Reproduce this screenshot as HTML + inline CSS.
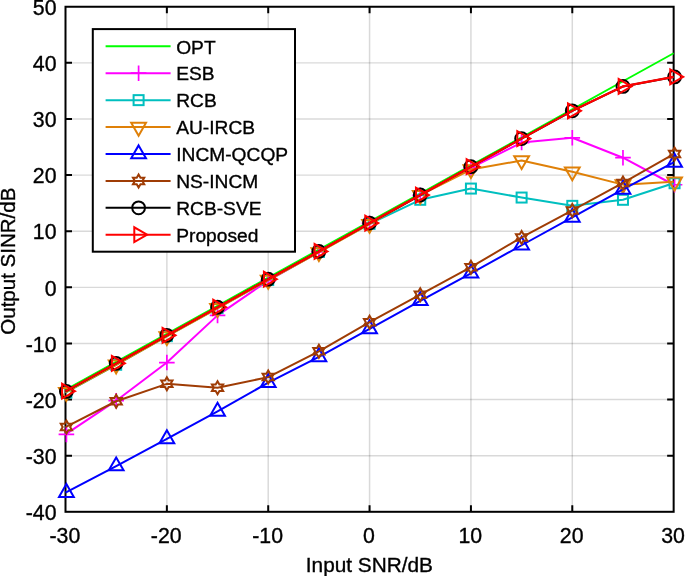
<!DOCTYPE html>
<html><head><meta charset="utf-8"><title>SINR vs SNR</title>
<style>html,body{margin:0;padding:0;background:#fff}svg{display:block}</style></head>
<body>
<svg width="685" height="576" viewBox="0 0 685 576" font-family="'Liberation Sans', sans-serif" font-size="21.3" fill="#000"><style>text{stroke:#000;stroke-width:0.35px}</style>
<rect width="685" height="576" fill="#fff"/>
<path d="M166.86 6.75V511.8M268.22 6.75V511.8M369.57 6.75V511.8M470.93 6.75V511.8M572.29 6.75V511.8" stroke="#000" stroke-opacity="0.15" stroke-width="1.5" fill="none"/>
<path d="M65.5 455.68H673.65M65.5 399.57H673.65M65.5 343.45H673.65M65.5 287.33H673.65M65.5 231.22H673.65M65.5 175.10H673.65M65.5 118.98H673.65M65.5 62.87H673.65" stroke="#000" stroke-opacity="0.15" stroke-width="1.4" fill="none"/>
<rect x="65.5" y="6.75" width="608.15" height="505.05" stroke="#000" stroke-width="2" fill="none"/>
<path d="M166.86 511.8v-6.5M166.86 6.75v6.5M268.22 511.8v-6.5M268.22 6.75v6.5M369.57 511.8v-6.5M369.57 6.75v6.5M470.93 511.8v-6.5M470.93 6.75v6.5M572.29 511.8v-6.5M572.29 6.75v6.5M65.5 455.68h6.5M673.65 455.68h-6.5M65.5 399.57h6.5M673.65 399.57h-6.5M65.5 343.45h6.5M673.65 343.45h-6.5M65.5 287.33h6.5M673.65 287.33h-6.5M65.5 231.22h6.5M673.65 231.22h-6.5M65.5 175.10h6.5M673.65 175.10h-6.5M65.5 118.98h6.5M673.65 118.98h-6.5M65.5 62.87h6.5M673.65 62.87h-6.5" stroke="#000" stroke-width="2" fill="none"/>
<g><polyline points="65.50,389.91 116.18,361.86 166.86,333.80 217.54,305.74 268.22,277.68 318.90,249.62 369.57,221.56 420.25,193.51 470.93,165.45 521.61,137.39 572.29,109.33 622.97,81.27 673.65,53.21" stroke="#00ff00" stroke-width="1.9" fill="none" stroke-linejoin="round"/>
</g>
<g><polyline points="65.50,434.36 116.18,400.69 166.86,362.53 217.54,315.39 268.22,280.60 318.90,251.98 369.57,223.36 420.25,195.30 470.93,167.80 521.61,142.55 572.29,137.78 622.97,157.70 673.65,184.75" stroke="#ff00ff" stroke-width="2.0" fill="none" stroke-linejoin="round"/>
<path d="M58.60 434.36H74.20M66.40 426.56V442.16" stroke="#ff00ff" stroke-width="1.7" fill="none"/>
<path d="M108.38 400.69H123.98M116.18 392.89V408.49" stroke="#ff00ff" stroke-width="1.7" fill="none"/>
<path d="M159.06 362.53H174.66M166.86 354.73V370.33" stroke="#ff00ff" stroke-width="1.7" fill="none"/>
<path d="M209.74 315.39H225.34M217.54 307.59V323.19" stroke="#ff00ff" stroke-width="1.7" fill="none"/>
<path d="M260.42 280.60H276.02M268.22 272.80V288.40" stroke="#ff00ff" stroke-width="1.7" fill="none"/>
<path d="M311.10 251.98H326.70M318.90 244.18V259.78" stroke="#ff00ff" stroke-width="1.7" fill="none"/>
<path d="M361.77 223.36H377.38M369.57 215.56V231.16" stroke="#ff00ff" stroke-width="1.7" fill="none"/>
<path d="M412.45 195.30H428.05M420.25 187.50V203.10" stroke="#ff00ff" stroke-width="1.7" fill="none"/>
<path d="M463.13 167.80H478.73M470.93 160.00V175.60" stroke="#ff00ff" stroke-width="1.7" fill="none"/>
<path d="M513.81 142.55H529.41M521.61 134.75V150.35" stroke="#ff00ff" stroke-width="1.7" fill="none"/>
<path d="M564.49 137.78H580.09M572.29 129.98V145.58" stroke="#ff00ff" stroke-width="1.7" fill="none"/>
<path d="M615.17 157.70H630.77M622.97 149.90V165.50" stroke="#ff00ff" stroke-width="1.7" fill="none"/>
<path d="M666.75 184.75H682.35M674.55 176.95V192.55" stroke="#ff00ff" stroke-width="1.7" fill="none"/>
</g>
<g><polyline points="65.50,392.55 116.18,364.77 166.86,336.15 217.54,308.10 268.22,280.04 318.90,251.98 369.57,223.92 420.25,199.79 470.93,188.57 521.61,197.55 572.29,205.85 622.97,199.79 673.65,183.24" stroke="#00bfbf" stroke-width="2.0" fill="none" stroke-linejoin="round"/>
<rect x="61.40" y="387.55" width="10.0" height="10.0" stroke="#00bfbf" stroke-width="2.0" fill="none"/>
<rect x="111.18" y="359.77" width="10.0" height="10.0" stroke="#00bfbf" stroke-width="2.0" fill="none"/>
<rect x="161.86" y="331.15" width="10.0" height="10.0" stroke="#00bfbf" stroke-width="2.0" fill="none"/>
<rect x="212.54" y="303.10" width="10.0" height="10.0" stroke="#00bfbf" stroke-width="2.0" fill="none"/>
<rect x="263.22" y="275.04" width="10.0" height="10.0" stroke="#00bfbf" stroke-width="2.0" fill="none"/>
<rect x="313.90" y="246.98" width="10.0" height="10.0" stroke="#00bfbf" stroke-width="2.0" fill="none"/>
<rect x="364.57" y="218.92" width="10.0" height="10.0" stroke="#00bfbf" stroke-width="2.0" fill="none"/>
<rect x="415.25" y="194.79" width="10.0" height="10.0" stroke="#00bfbf" stroke-width="2.0" fill="none"/>
<rect x="465.93" y="183.57" width="10.0" height="10.0" stroke="#00bfbf" stroke-width="2.0" fill="none"/>
<rect x="516.61" y="192.55" width="10.0" height="10.0" stroke="#00bfbf" stroke-width="2.0" fill="none"/>
<rect x="567.29" y="200.85" width="10.0" height="10.0" stroke="#00bfbf" stroke-width="2.0" fill="none"/>
<rect x="617.97" y="194.79" width="10.0" height="10.0" stroke="#00bfbf" stroke-width="2.0" fill="none"/>
<rect x="669.55" y="178.24" width="10.0" height="10.0" stroke="#00bfbf" stroke-width="2.0" fill="none"/>
</g>
<g><polyline points="65.50,392.27 116.18,364.77 166.86,336.44 217.54,308.38 268.22,280.15 318.90,252.43 369.57,224.20 420.25,195.19 470.93,169.49 521.61,160.51 572.29,171.73 622.97,184.64 673.65,181.83" stroke="#df8008" stroke-width="2.0" fill="none" stroke-linejoin="round"/>
<polygon points="66.40,400.87 73.80,387.97 59.00,387.97" stroke="#df8008" stroke-width="2.0" fill="none" stroke-linejoin="miter"/>
<polygon points="116.18,373.37 123.58,360.47 108.78,360.47" stroke="#df8008" stroke-width="2.0" fill="none" stroke-linejoin="miter"/>
<polygon points="166.86,345.04 174.26,332.14 159.46,332.14" stroke="#df8008" stroke-width="2.0" fill="none" stroke-linejoin="miter"/>
<polygon points="217.54,316.98 224.94,304.08 210.14,304.08" stroke="#df8008" stroke-width="2.0" fill="none" stroke-linejoin="miter"/>
<polygon points="268.22,288.75 275.62,275.85 260.82,275.85" stroke="#df8008" stroke-width="2.0" fill="none" stroke-linejoin="miter"/>
<polygon points="318.90,261.03 326.30,248.13 311.50,248.13" stroke="#df8008" stroke-width="2.0" fill="none" stroke-linejoin="miter"/>
<polygon points="369.57,232.80 376.97,219.90 362.18,219.90" stroke="#df8008" stroke-width="2.0" fill="none" stroke-linejoin="miter"/>
<polygon points="420.25,203.79 427.65,190.89 412.85,190.89" stroke="#df8008" stroke-width="2.0" fill="none" stroke-linejoin="miter"/>
<polygon points="470.93,178.09 478.33,165.19 463.53,165.19" stroke="#df8008" stroke-width="2.0" fill="none" stroke-linejoin="miter"/>
<polygon points="521.61,169.11 529.01,156.21 514.21,156.21" stroke="#df8008" stroke-width="2.0" fill="none" stroke-linejoin="miter"/>
<polygon points="572.29,180.33 579.69,167.43 564.89,167.43" stroke="#df8008" stroke-width="2.0" fill="none" stroke-linejoin="miter"/>
<polygon points="622.97,193.24 630.37,180.34 615.57,180.34" stroke="#df8008" stroke-width="2.0" fill="none" stroke-linejoin="miter"/>
<polygon points="674.55,190.43 681.95,177.53 667.15,177.53" stroke="#df8008" stroke-width="2.0" fill="none" stroke-linejoin="miter"/>
</g>
<g><polyline points="65.50,492.72 116.18,466.06 166.86,438.85 217.54,411.35 268.22,382.73 318.90,356.92 369.57,328.86 420.25,300.80 470.93,273.30 521.61,245.25 572.29,217.47 622.97,189.41 673.65,162.47" stroke="#0000ff" stroke-width="2.0" fill="none" stroke-linejoin="round"/>
<polygon points="66.40,484.12 73.80,497.02 59.00,497.02" stroke="#0000ff" stroke-width="2.0" fill="none" stroke-linejoin="miter"/>
<polygon points="116.18,457.46 123.58,470.36 108.78,470.36" stroke="#0000ff" stroke-width="2.0" fill="none" stroke-linejoin="miter"/>
<polygon points="166.86,430.25 174.26,443.15 159.46,443.15" stroke="#0000ff" stroke-width="2.0" fill="none" stroke-linejoin="miter"/>
<polygon points="217.54,402.75 224.94,415.65 210.14,415.65" stroke="#0000ff" stroke-width="2.0" fill="none" stroke-linejoin="miter"/>
<polygon points="268.22,374.13 275.62,387.03 260.82,387.03" stroke="#0000ff" stroke-width="2.0" fill="none" stroke-linejoin="miter"/>
<polygon points="318.90,348.32 326.30,361.22 311.50,361.22" stroke="#0000ff" stroke-width="2.0" fill="none" stroke-linejoin="miter"/>
<polygon points="369.57,320.26 376.97,333.16 362.18,333.16" stroke="#0000ff" stroke-width="2.0" fill="none" stroke-linejoin="miter"/>
<polygon points="420.25,292.20 427.65,305.10 412.85,305.10" stroke="#0000ff" stroke-width="2.0" fill="none" stroke-linejoin="miter"/>
<polygon points="470.93,264.70 478.33,277.60 463.53,277.60" stroke="#0000ff" stroke-width="2.0" fill="none" stroke-linejoin="miter"/>
<polygon points="521.61,236.65 529.01,249.55 514.21,249.55" stroke="#0000ff" stroke-width="2.0" fill="none" stroke-linejoin="miter"/>
<polygon points="572.29,208.87 579.69,221.77 564.89,221.77" stroke="#0000ff" stroke-width="2.0" fill="none" stroke-linejoin="miter"/>
<polygon points="622.97,180.81 630.37,193.71 615.57,193.71" stroke="#0000ff" stroke-width="2.0" fill="none" stroke-linejoin="miter"/>
<polygon points="674.55,153.87 681.95,166.77 667.15,166.77" stroke="#0000ff" stroke-width="2.0" fill="none" stroke-linejoin="miter"/>
</g>
<g><polyline points="65.50,427.06 116.18,401.25 166.86,383.85 217.54,387.78 268.22,377.12 318.90,351.31 369.57,322.13 420.25,294.63 470.93,267.13 521.61,237.39 572.29,210.45 622.97,182.96 673.65,154.06" stroke="#9f3c05" stroke-width="2.0" fill="none" stroke-linejoin="round"/>
<polygon points="66.40,420.56 68.28,423.81 72.03,423.81 70.15,427.06 72.03,430.31 68.28,430.31 66.40,433.56 64.52,430.31 60.77,430.31 62.65,427.06 60.77,423.81 64.52,423.81" stroke="#9f3c05" stroke-width="2.0" fill="none" stroke-linejoin="miter"/>
<polygon points="116.18,394.75 118.06,398.00 121.81,398.00 119.93,401.25 121.81,404.50 118.06,404.50 116.18,407.75 114.30,404.50 110.55,404.50 112.43,401.25 110.55,398.00 114.30,398.00" stroke="#9f3c05" stroke-width="2.0" fill="none" stroke-linejoin="miter"/>
<polygon points="166.86,377.35 168.73,380.60 172.49,380.60 170.61,383.85 172.49,387.10 168.73,387.10 166.86,390.35 164.98,387.10 161.23,387.10 163.11,383.85 161.23,380.60 164.98,380.60" stroke="#9f3c05" stroke-width="2.0" fill="none" stroke-linejoin="miter"/>
<polygon points="217.54,381.28 219.41,384.53 223.17,384.53 221.29,387.78 223.17,391.03 219.41,391.03 217.54,394.28 215.66,391.03 211.91,391.03 213.78,387.78 211.91,384.53 215.66,384.53" stroke="#9f3c05" stroke-width="2.0" fill="none" stroke-linejoin="miter"/>
<polygon points="268.22,370.62 270.09,373.87 273.85,373.87 271.97,377.12 273.85,380.37 270.09,380.37 268.22,383.62 266.34,380.37 262.59,380.37 264.46,377.12 262.59,373.87 266.34,373.87" stroke="#9f3c05" stroke-width="2.0" fill="none" stroke-linejoin="miter"/>
<polygon points="318.90,344.81 320.77,348.06 324.52,348.06 322.65,351.31 324.52,354.56 320.77,354.56 318.90,357.81 317.02,354.56 313.27,354.56 315.14,351.31 313.27,348.06 317.02,348.06" stroke="#9f3c05" stroke-width="2.0" fill="none" stroke-linejoin="miter"/>
<polygon points="369.57,315.63 371.45,318.88 375.20,318.88 373.33,322.13 375.20,325.38 371.45,325.38 369.57,328.63 367.70,325.38 363.95,325.38 365.82,322.13 363.95,318.88 367.70,318.88" stroke="#9f3c05" stroke-width="2.0" fill="none" stroke-linejoin="miter"/>
<polygon points="420.25,288.13 422.13,291.38 425.88,291.38 424.01,294.63 425.88,297.88 422.13,297.88 420.25,301.13 418.38,297.88 414.63,297.88 416.50,294.63 414.63,291.38 418.38,291.38" stroke="#9f3c05" stroke-width="2.0" fill="none" stroke-linejoin="miter"/>
<polygon points="470.93,260.63 472.81,263.88 476.56,263.88 474.69,267.13 476.56,270.38 472.81,270.38 470.93,273.63 469.06,270.38 465.30,270.38 467.18,267.13 465.30,263.88 469.06,263.88" stroke="#9f3c05" stroke-width="2.0" fill="none" stroke-linejoin="miter"/>
<polygon points="521.61,230.89 523.49,234.14 527.24,234.14 525.37,237.39 527.24,240.64 523.49,240.64 521.61,243.89 519.74,240.64 515.98,240.64 517.86,237.39 515.98,234.14 519.74,234.14" stroke="#9f3c05" stroke-width="2.0" fill="none" stroke-linejoin="miter"/>
<polygon points="572.29,203.95 574.17,207.20 577.92,207.20 576.04,210.45 577.92,213.70 574.17,213.70 572.29,216.95 570.42,213.70 566.66,213.70 568.54,210.45 566.66,207.20 570.42,207.20" stroke="#9f3c05" stroke-width="2.0" fill="none" stroke-linejoin="miter"/>
<polygon points="622.97,176.46 624.85,179.71 628.60,179.71 626.72,182.96 628.60,186.21 624.85,186.21 622.97,189.46 621.09,186.21 617.34,186.21 619.22,182.96 617.34,179.71 621.09,179.71" stroke="#9f3c05" stroke-width="2.0" fill="none" stroke-linejoin="miter"/>
<polygon points="674.55,147.56 676.43,150.81 680.18,150.81 678.30,154.06 680.18,157.31 676.43,157.31 674.55,160.56 672.67,157.31 668.92,157.31 670.80,154.06 668.92,150.81 672.67,150.81" stroke="#9f3c05" stroke-width="2.0" fill="none" stroke-linejoin="miter"/>
</g>
<g><polyline points="65.50,391.43 116.18,363.37 166.86,335.31 217.54,307.25 268.22,279.20 318.90,251.42 369.57,223.08 420.25,195.02 470.93,166.68 521.61,138.62 572.29,110.85 622.97,86.44 673.65,76.90" stroke="#000000" stroke-width="2.0" fill="none" stroke-linejoin="round"/>
<circle cx="66.40" cy="391.43" r="6.4" stroke="#000000" stroke-width="2.0" fill="none"/>
<circle cx="116.18" cy="363.37" r="6.4" stroke="#000000" stroke-width="2.0" fill="none"/>
<circle cx="166.86" cy="335.31" r="6.4" stroke="#000000" stroke-width="2.0" fill="none"/>
<circle cx="217.54" cy="307.25" r="6.4" stroke="#000000" stroke-width="2.0" fill="none"/>
<circle cx="268.22" cy="279.20" r="6.4" stroke="#000000" stroke-width="2.0" fill="none"/>
<circle cx="318.90" cy="251.42" r="6.4" stroke="#000000" stroke-width="2.0" fill="none"/>
<circle cx="369.57" cy="223.08" r="6.4" stroke="#000000" stroke-width="2.0" fill="none"/>
<circle cx="420.25" cy="195.02" r="6.4" stroke="#000000" stroke-width="2.0" fill="none"/>
<circle cx="470.93" cy="166.68" r="6.4" stroke="#000000" stroke-width="2.0" fill="none"/>
<circle cx="521.61" cy="138.62" r="6.4" stroke="#000000" stroke-width="2.0" fill="none"/>
<circle cx="572.29" cy="110.85" r="6.4" stroke="#000000" stroke-width="2.0" fill="none"/>
<circle cx="622.97" cy="86.44" r="6.4" stroke="#000000" stroke-width="2.0" fill="none"/>
<circle cx="674.55" cy="76.90" r="6.4" stroke="#000000" stroke-width="2.0" fill="none"/>
</g>
<g><polyline points="65.50,391.15 116.18,363.37 166.86,335.31 217.54,307.25 268.22,279.20 318.90,251.42 369.57,223.08 420.25,195.02 470.93,166.68 521.61,138.62 572.29,110.85 622.97,86.44 673.65,76.90" stroke="#ff0000" stroke-width="2.2" fill="none" stroke-linejoin="round"/>
<polygon points="75.00,391.15 62.10,398.55 62.10,383.75" stroke="#ff0000" stroke-width="2.0" fill="none" stroke-linejoin="miter"/>
<polygon points="124.78,363.37 111.88,370.77 111.88,355.97" stroke="#ff0000" stroke-width="2.0" fill="none" stroke-linejoin="miter"/>
<polygon points="175.46,335.31 162.56,342.71 162.56,327.91" stroke="#ff0000" stroke-width="2.0" fill="none" stroke-linejoin="miter"/>
<polygon points="226.14,307.25 213.24,314.65 213.24,299.85" stroke="#ff0000" stroke-width="2.0" fill="none" stroke-linejoin="miter"/>
<polygon points="276.82,279.20 263.92,286.60 263.92,271.80" stroke="#ff0000" stroke-width="2.0" fill="none" stroke-linejoin="miter"/>
<polygon points="327.50,251.42 314.60,258.82 314.60,244.02" stroke="#ff0000" stroke-width="2.0" fill="none" stroke-linejoin="miter"/>
<polygon points="378.18,223.08 365.27,230.48 365.27,215.68" stroke="#ff0000" stroke-width="2.0" fill="none" stroke-linejoin="miter"/>
<polygon points="428.85,195.02 415.95,202.42 415.95,187.62" stroke="#ff0000" stroke-width="2.0" fill="none" stroke-linejoin="miter"/>
<polygon points="479.53,166.68 466.63,174.08 466.63,159.28" stroke="#ff0000" stroke-width="2.0" fill="none" stroke-linejoin="miter"/>
<polygon points="530.21,138.62 517.31,146.02 517.31,131.22" stroke="#ff0000" stroke-width="2.0" fill="none" stroke-linejoin="miter"/>
<polygon points="580.89,110.85 567.99,118.25 567.99,103.45" stroke="#ff0000" stroke-width="2.0" fill="none" stroke-linejoin="miter"/>
<polygon points="631.57,86.44 618.67,93.84 618.67,79.04" stroke="#ff0000" stroke-width="2.0" fill="none" stroke-linejoin="miter"/>
<polygon points="683.15,76.90 670.25,84.30 670.25,69.50" stroke="#ff0000" stroke-width="2.0" fill="none" stroke-linejoin="miter"/>
</g>
<text x="64.90" y="543.1" text-anchor="middle">-30</text>
<text x="166.26" y="543.1" text-anchor="middle">-20</text>
<text x="267.62" y="543.1" text-anchor="middle">-10</text>
<text x="368.97" y="543.1" text-anchor="middle">0</text>
<text x="470.33" y="543.1" text-anchor="middle">10</text>
<text x="571.69" y="543.1" text-anchor="middle">20</text>
<text x="673.05" y="543.1" text-anchor="middle">30</text>
<text x="56.5" y="520.00" text-anchor="end">-40</text>
<text x="56.5" y="463.88" text-anchor="end">-30</text>
<text x="56.5" y="407.77" text-anchor="end">-20</text>
<text x="56.5" y="351.65" text-anchor="end">-10</text>
<text x="56.5" y="295.53" text-anchor="end">0</text>
<text x="56.5" y="239.42" text-anchor="end">10</text>
<text x="56.5" y="183.30" text-anchor="end">20</text>
<text x="56.5" y="127.18" text-anchor="end">30</text>
<text x="56.5" y="71.07" text-anchor="end">40</text>
<text x="56.5" y="14.95" text-anchor="end">50</text>
<text x="369.4" y="572.3" text-anchor="middle" font-size="20.8">Input SNR/dB</text>
<text transform="translate(14.8 261.2) rotate(-90)" text-anchor="middle" font-size="20.5">Output SINR/dB</text>
<rect x="92.8" y="29.1" width="202.20" height="222.60" fill="#fff" stroke="#000" stroke-width="2"/>
<path d="M105.6 46.30H170.6" stroke="#00ff00" stroke-width="1.9" fill="none"/>
<text x="176.2" y="53.55" font-size="19.2">OPT</text>
<path d="M105.6 73.22H170.6" stroke="#ff00ff" stroke-width="2.0" fill="none"/>
<path d="M130.80 73.22H146.40M138.60 65.42V81.02" stroke="#ff00ff" stroke-width="1.7" fill="none"/>
<text x="176.2" y="80.47" font-size="19.2">ESB</text>
<path d="M105.6 100.14H170.6" stroke="#00bfbf" stroke-width="2.0" fill="none"/>
<rect x="133.60" y="95.14" width="10.0" height="10.0" stroke="#00bfbf" stroke-width="2.0" fill="none"/>
<text x="176.2" y="107.39" font-size="19.2">RCB</text>
<path d="M105.6 127.06H170.6" stroke="#df8008" stroke-width="2.0" fill="none"/>
<polygon points="138.60,135.66 146.00,122.76 131.20,122.76" stroke="#df8008" stroke-width="2.0" fill="none" stroke-linejoin="miter"/>
<text x="176.2" y="134.31" font-size="19.2">AU-IRCB</text>
<path d="M105.6 153.98H170.6" stroke="#0000ff" stroke-width="2.0" fill="none"/>
<polygon points="138.60,145.38 146.00,158.28 131.20,158.28" stroke="#0000ff" stroke-width="2.0" fill="none" stroke-linejoin="miter"/>
<text x="176.2" y="161.23" font-size="19.2">INCM-QCQP</text>
<path d="M105.6 180.90H170.6" stroke="#9f3c05" stroke-width="2.0" fill="none"/>
<polygon points="138.60,174.40 140.48,177.65 144.23,177.65 142.35,180.90 144.23,184.15 140.48,184.15 138.60,187.40 136.72,184.15 132.97,184.15 134.85,180.90 132.97,177.65 136.72,177.65" stroke="#9f3c05" stroke-width="2.0" fill="none" stroke-linejoin="miter"/>
<text x="176.2" y="188.15" font-size="19.2">NS-INCM</text>
<path d="M105.6 207.82H170.6" stroke="#000000" stroke-width="2.0" fill="none"/>
<circle cx="138.60" cy="207.82" r="6.4" stroke="#000000" stroke-width="2.0" fill="none"/>
<text x="176.2" y="215.07" font-size="19.2">RCB-SVE</text>
<path d="M105.6 234.74H170.6" stroke="#ff0000" stroke-width="2.2" fill="none"/>
<polygon points="147.20,234.74 134.30,242.14 134.30,227.34" stroke="#ff0000" stroke-width="2.0" fill="none" stroke-linejoin="miter"/>
<text x="176.2" y="241.99" font-size="19.2">Proposed</text>
</svg>
</body></html>
